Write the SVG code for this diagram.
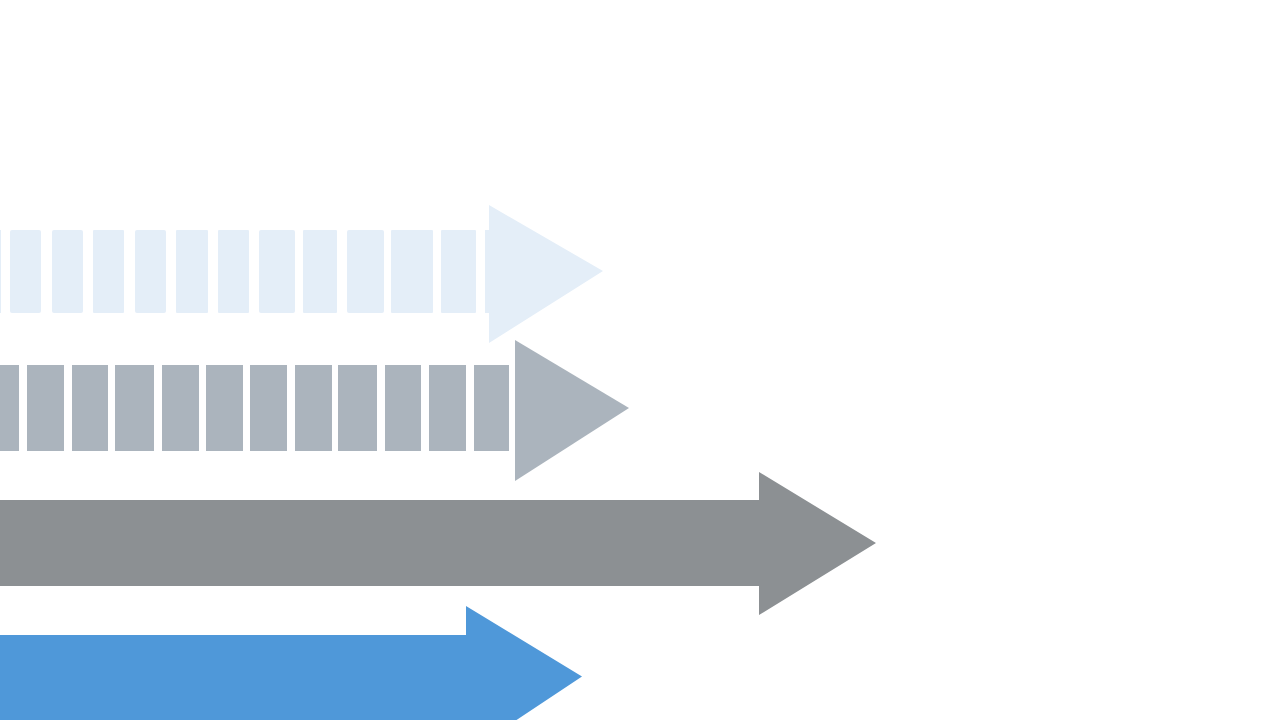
<svg xmlns="http://www.w3.org/2000/svg" width="1280" height="720" viewBox="0 0 1280 720">
<style>
.pale{fill:#e4eef8}
.steel{fill:#abb4bd}
.dark{fill:#8c9093}
.blue{fill:#4f98d9}
</style>
<rect width="1280" height="720" fill="#fff"/>
<g id="arrow-pale" class="pale">
<rect x="0" y="230" width="1" height="83"/>
<rect x="10" y="230" width="31" height="83" rx="2"/>
<rect x="52" y="230" width="31" height="83" rx="2"/>
<rect x="93" y="230" width="31" height="83" rx="1"/>
<rect x="135" y="230" width="31" height="83" rx="2"/>
<rect x="176" y="230" width="32" height="83" rx="1"/>
<rect x="218" y="230" width="31" height="83" rx="1"/>
<rect x="259" y="230" width="36" height="83" rx="2"/>
<rect x="303" y="230" width="34" height="83" rx="1"/>
<rect x="347" y="230" width="37" height="83" rx="2"/>
<rect x="391" y="230" width="42" height="83" rx="1"/>
<rect x="441" y="230" width="35" height="83" rx="1"/>
<polygon points="489,205 603,271 489,343 489,313 485,313 485,230 489,230"/>
</g>
<g id="arrow-steel" class="steel">
<rect x="0" y="365" width="19" height="86"/>
<rect x="27" y="365" width="37" height="86"/>
<rect x="72" y="365" width="36" height="86"/>
<rect x="115" y="365" width="39" height="86"/>
<rect x="162" y="365" width="37" height="86"/>
<rect x="206" y="365" width="37" height="86"/>
<rect x="250" y="365" width="37" height="86"/>
<rect x="295" y="365" width="37" height="86"/>
<rect x="338" y="365" width="39" height="86"/>
<rect x="385" y="365" width="36" height="86"/>
<rect x="429" y="365" width="37" height="86"/>
<rect x="474" y="365" width="35" height="86"/>
<polygon points="515,340 629,408 515,481"/>
</g>
<g id="arrow-dark" class="dark">
<polygon points="0,500 759,500 759,472 876,543 759,615 759,586 0,586"/>
</g>
<g id="arrow-blue" class="blue">
<polygon points="0,635 466,635 466,606 582,676.5 516.5,720 0,720"/>
</g>
<g id="connectors"/>
</svg>
